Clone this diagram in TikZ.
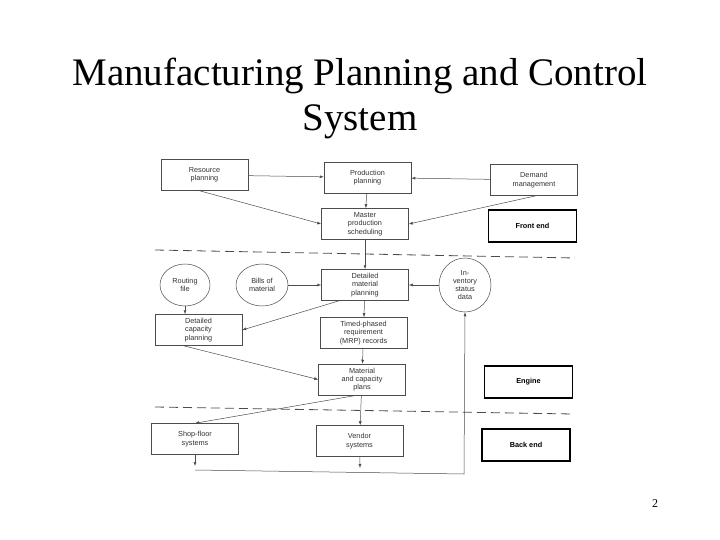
\documentclass[tikz,border=0pt]{standalone}
\usepackage{fontspec}
\setmainfont{Liberation Serif}
\newfontfamily\diag{Liberation Sans}
\usetikzlibrary{arrows.meta,shapes.geometric}
\begin{document}
\begin{tikzpicture}[x=1pt,y=-1pt,
  box/.style={draw=black!70,line width=0.5pt,minimum width=87pt,minimum height=31pt,align=center,inner sep=1pt,font=\diag\fontsize{7.3}{8.3}\selectfont,text=black!80},
  lab/.style={draw=black,line width=1.2pt,minimum width=88pt,minimum height=32pt,font=\diag\bfseries\fontsize{7.3}{8.3}\selectfont},
  circ/.style={draw=black!70,ellipse,line width=0.5pt,align=center,inner sep=0pt,font=\diag\fontsize{7.3}{8.3}\selectfont,text=black!80},
  arr/.style={draw=black!70,line width=0.5pt,-{Latex[length=4pt,width=3pt]}},
  dline/.style={draw=black!70,line width=0.8pt,dash pattern=on 9pt off 5pt}]
\useasboundingbox (0,0) rectangle (720,540);
\fill[white] (0,0) rectangle (720,540);
\node[font=\fontsize{39}{45}\selectfont,align=center] (title) at (360,98) {Manufacturing Planning and Control\\System};
\node[font=\fontsize{12}{14}\selectfont] (pg) at (655,504) {2};
\node[box] (rp) at (204.5,175) {Resource\\planning};
\node[box] (pp) at (367.5,177.5) {Production\\planning};
\node[box] (dm) at (534,180) {Demand\\management};
\node[box] (mps) at (365,224) {Master\\production\\scheduling};
\node[lab] (fe) at (532.5,226) {Front end};
\draw[dline] (155,250) -- (575,258);
\node[circ,minimum width=50pt,minimum height=42pt] (rf) at (185,285) {Routing\\file};
\node[circ,minimum width=52pt,minimum height=42pt] (bom) at (262,285) {Bills of\\material};
\node[box] (dmp) at (365,285) {Detailed\\material\\planning};
\node[circ,minimum width=52pt,minimum height=54pt] (inv) at (465,285) {In-\\ventory\\status\\data};
\node[box] (dcp) at (198.5,330) {Detailed\\capacity\\planning};
\node[box] (tp) at (363.5,333) {Timed-phased\\requirement\\(MRP) records};
\node[box] (mcp) at (362,379.5) {Material\\and capacity\\plans};
\node[lab] (en) at (528.5,382) {Engine};
\draw[dline] (155,407) -- (573,414);
\node[box] (sf) at (195,439) {Shop-floor\\systems};
\node[box] (vs) at (359.5,441) {Vendor\\systems};
\node[lab] (be) at (526,445) {Back end};
\draw[arr] (rp) -- (pp);
\draw[arr] (dm) -- (pp);
\draw[arr] (pp) -- (mps);
\draw[arr] (rp.south) ++(-5,0) -- (mps.west);
\draw[arr] (dm.south) ++(2,0) -- (mps.east);
\draw[arr] (mps) -- (dmp);
\draw[arr] (bom) -- (dmp);
\draw[arr] (inv) -- (dmp);
\draw[arr] (rf) -- (rf|-dcp.north);
\draw[arr] (dmp.south west) ++(18,0) -- (dcp.east);
\draw[arr] (dmp) -- (tp);
\draw[arr] (tp) -- (mcp);
\draw[arr] (dcp.south) ++(-15,0) -- (mcp.west);
\draw[arr] (mcp) -- (vs);
\draw[arr] (mcp.south) ++(-5,0) -- (sf.north);
\coordinate (b1) at (195,466);
\coordinate (b2) at (360,468);
\coordinate (c) at (464,474);
\coordinate (c0) at (195,470);
\draw[arr] (sf) -- (b1);
\draw[arr] (vs) -- (b2);
\draw[arr] (c0) -- (c) -- (inv.south);
\end{tikzpicture}
\end{document}
